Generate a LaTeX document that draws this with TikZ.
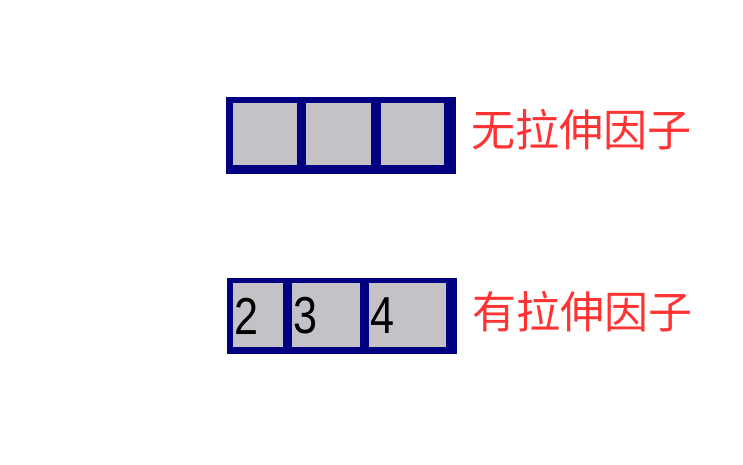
\documentclass[tikz,border=0pt]{standalone}
\usepackage{fontspec}
\setmainfont{Liberation Sans}
\newfontfamily\cjk{Noto Sans CJK SC}
\definecolor{navyframe}{HTML}{000080}
\definecolor{cellgray}{HTML}{C4C2C6}
\definecolor{labelred}{HTML}{FF3333}
\begin{document}
\begin{tikzpicture}[x=1pt,y=-1pt,
  frame/.style={fill=navyframe,draw=none,inner sep=0pt,anchor=north west},
  cell/.style={fill=cellgray,draw=none,inner sep=0pt,anchor=north west},
  digit/.style={inner sep=0pt,anchor=west,font=\fontsize{52}{52}\selectfont,xscale=0.83},
  lbl/.style={inner sep=0pt,text=labelred,font=\cjk\fontsize{44}{44}\selectfont}]
\useasboundingbox (0,0) rectangle (743,464);
% top row
\node[frame,minimum width=230pt,minimum height=77pt] (f1) at (225.5,97) {};
\node[cell,minimum width=64pt,minimum height=62pt] (a1) at (233,103) {};
\node[cell,minimum width=65pt,minimum height=62pt] (a2) at (306,103) {};
\node[cell,minimum width=63pt,minimum height=62pt] (a3) at (381,103) {};
\node[lbl] (t1) at (581,130) {无拉伸因子};
% bottom row
\node[frame,minimum width=230pt,minimum height=76.5pt] (f2) at (227,277.5) {};
\node[cell,minimum width=50pt,minimum height=63.5pt] (b1) at (232.5,283) {};
\node[cell,minimum width=68pt,minimum height=63.5pt] (b2) at (291.5,283) {};
\node[cell,minimum width=77.5pt,minimum height=63.5pt] (b3) at (368.5,283) {};
\node[digit] (d1) at (234.5,316) {2};
\node[digit] (d2) at (293.5,316) {3};
\node[digit] (d3) at (370.5,316) {4};
\node[lbl] (t2) at (582,312) {有拉伸因子};
\end{tikzpicture}
\end{document}
